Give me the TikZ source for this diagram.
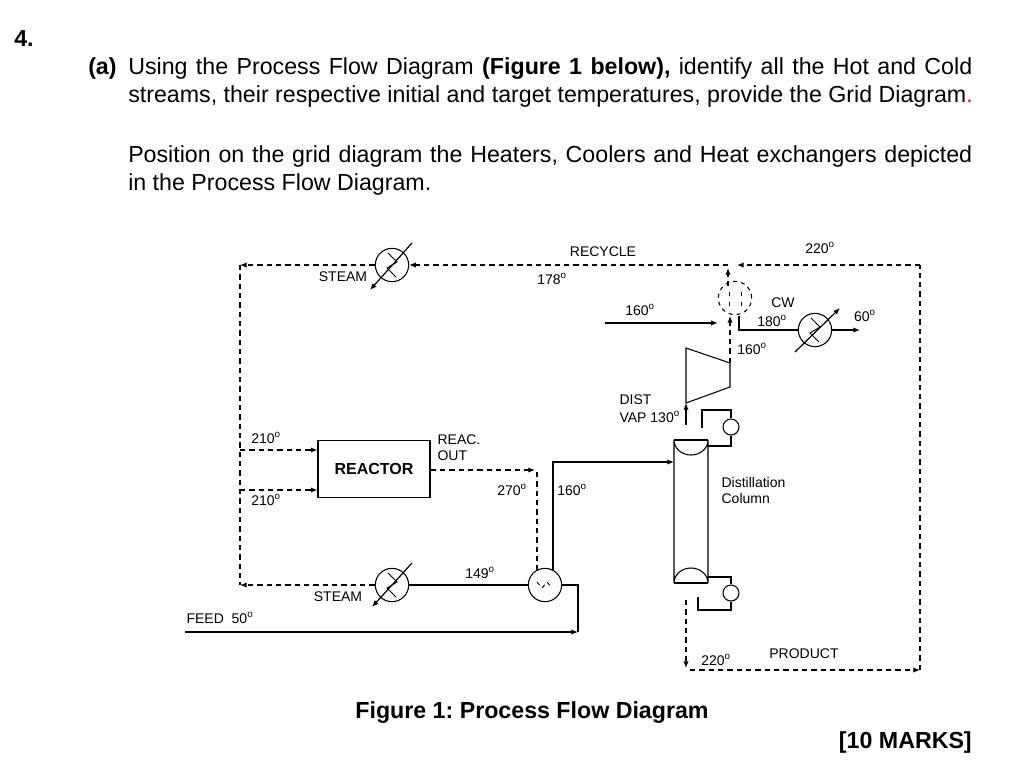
\documentclass[tikz,border=0pt]{standalone}
\usepackage{fontspec}
\setmainfont{Liberation Sans}
\usetikzlibrary{arrows.meta,calc}
\newcommand{\dg}{\textsuperscript{o}}
\frenchspacing
\begin{document}
\begin{tikzpicture}[x=0.75pt,y=-0.75pt,
  lbl/.style={font=\fontsize{10.5}{12}\selectfont,inner sep=1pt},
  txt/.style={font=\fontsize{17.4}{20}\selectfont,anchor=base west,inner sep=0},
  btxt/.style={font=\fontsize{17.4}{20}\selectfont\bfseries,anchor=base west,inner sep=0},
  flow/.style={line width=0.9pt},
  dflow/.style={line width=0.9pt,dash pattern=on 4pt off 3pt},
  arr/.style={-{Latex[length=5pt,width=4pt]}},
  hx/.style={circle,draw,line width=0.8pt,minimum size=25pt,inner sep=0}]
\useasboundingbox (0,0) rectangle (1024,765);
% header text
\node[btxt] (n4) at (14,46) {4.};
\node[btxt] (na) at (88,74) {(a)};
\node[txt] (l1) at (128,74) {\makebox[633pt][s]{Using the Process Flow Diagram \textbf{(Figure 1 below),} identify all the Hot and Cold}};
\node[txt] (l2) at (128,102) {streams, their respective initial and target temperatures, provide the Grid Diagram\textcolor{red}{.}};
\node[txt] (l3) at (128,162) {\makebox[633pt][s]{Position on the grid diagram the Heaters, Coolers and Heat exchangers depicted}};
\node[txt] (l4) at (128,190) {in the Process Flow Diagram.};
\node[btxt,anchor=base] (cap) at (532,718) {Figure 1: Process Flow Diagram};
\node[btxt,anchor=base east] (mk) at (972,748) {[10 MARKS]};

% equipment
\node[draw,line width=0.8pt,minimum width=84pt,minimum height=43pt,font=\fontsize{12}{14}\selectfont\bfseries] (reac) at (374,469) {REACTOR};
\node[hx] (h1) at (392,265) {};
\node[hx] (h2) at (392,585) {};
\node[hx] (c1) at (815,330) {};
\node[hx,dashed] (x1) at (735,298) {};
\node[hx] (x2) at (545,585) {};
\foreach \h in {h1,h2,c1}{
  \draw[line width=0.7pt] ($(\h)+(-4,-12)$) -- ($(\h)+(5,-3)$) -- ($(\h)+(-5,3)$) -- ($(\h)+(4,12)$);
}
\draw[line width=0.7pt,dashed] (x2)++(-8,-3) -- ++(5,6) -- ++(5,-6) -- ++(5,6);
\draw[line width=0.7pt,dashed] (x1)++(-6,-6) -- ++(0,4) (x1)++(6,-6)--++(0,4) (x1)++(-6,4)--++(0,5) (x1)++(6,4)--++(0,5);
% steam/cw arrows through heaters
\coordinate (h1a) at (412,243); \coordinate (h1b) at (370,290);
\draw[flow,arr] (h1a) -- (h1b);
\coordinate (h2a) at (412,563); \coordinate (h2b) at (372,607);
\draw[flow,arr] (h2a) -- (h2b);
\coordinate (c1a) at (795,352); \coordinate (c1b) at (840,308);
\draw[flow,arr] (c1a) -- (c1b);
% compressor
\coordinate (k1) at (686,348); \coordinate (k2) at (730,363); \coordinate (k3) at (730,387); \coordinate (k4) at (686,403);
\draw[line width=0.8pt] (k1)--(k2)--(k3)--(k4)--cycle;
% column
\draw[line width=0.8pt] (674,440) -- (674,583) arc[start angle=180,end angle=360,x radius=17,y radius=15] -- (708,440) arc[start angle=0,end angle=180,x radius=17,y radius=15];
\draw[line width=1.2pt] (674,440)--(708,440) (674,583)--(708,583);
\node[circle,draw,line width=0.8pt,minimum size=12pt,inner sep=0] (cond) at (731,427) {};
\node[circle,draw,line width=0.8pt,minimum size=12pt,inner sep=0] (reb) at (731,593) {};
\draw[line width=0.8pt] (702,428) -- (702,410) -- (731,410) -- (cond.north);
\draw[line width=0.8pt] (cond.south) -- (731,446) -- (708,446);
\draw[line width=0.8pt] (708,577) -- (731,577) -- (reb.north);
\draw[line width=0.8pt] (reb.south) -- (731,610) -- (698,610) -- (698,597);

% streams
\coordinate (tl) at (240,265); \coordinate (tr) at (920,265); \coordinate (br) at (920,670); \coordinate (bl) at (690,670);
\coordinate (mx) at (728,265);
\draw[dflow,arr] (728,286) -- (728,268);
\draw[dflow,arr] (mx) -- (h1.east);
\draw[dflow,arr] (h1.west) -- (tl);
\draw[dflow] (tl) -- (240,585);
\draw[dflow,arr] (bl) -- (br);
\draw[dflow] (br) -- (tr);
\draw[dflow,arr] (tr) -- (737,265);
\draw[dflow,arr] (686,600) -- (686,668);
\coordinate (d1) at (240,450); \coordinate (d2) at (240,490);
\draw[dflow,arr] (d1) -- (reac.west |- d1);
\draw[dflow,arr] (d2) -- (reac.west |- d2);
\draw[flow,arr] (605,323) -- (x1.west |- 0,323);
\draw[dflow,arr] (k2) -- (730,316);
\draw[flow] (739,316) -- (739,330) -- (c1.west);
\draw[flow,arr] (c1.east) -- (860,330);
\draw[flow,arr] (686,425) -- (k4);
\draw[dflow,arr] (reac.east |- 0,470) -- (535,470);
\draw[dflow] (537,472) -- (537,570);
\draw[flow,arr] (553,570) -- (553,462) -- (674,462);
\draw[flow,arr] (185,632) -- (578,632);
\draw[flow] (578,632) -- (578,585) -- (x2.east);
\draw[flow] (x2.west) -- (h2.east);
\draw[dflow,arr] (h2.west) -- (240,585);

% labels
\node[lbl] (t1) at (603,252) {RECYCLE};
\node[lbl] (t2) at (820,248) {220\dg};
\node[lbl] (t3) at (343,277) {STEAM};
\node[lbl] (t4) at (552,279) {178\dg};
\node[lbl] (t5) at (640,310) {160\dg};
\node[lbl] (t6) at (783,303) {CW};
\node[lbl] (t7) at (772,321) {180\dg};
\node[lbl] (t8) at (865,316) {60\dg};
\node[lbl] (t9) at (752,349) {160\dg};
\node[lbl,anchor=west] (t10) at (618,400) {DIST};
\node[lbl,anchor=west] (t11) at (618,417) {VAP 130\dg};
\node[lbl] (t12) at (266,438) {210\dg};
\node[lbl] (t13) at (266,500) {210\dg};
\node[lbl,anchor=west,align=left] (t14) at (436,448) {REAC.\\OUT};
\node[lbl] (t15) at (512,490) {270\dg};
\node[lbl] (t16) at (572,490) {160\dg};
\node[lbl,anchor=west,align=left] (t17) at (720,490) {Distillation\\Column};
\node[lbl] (t18) at (480,573) {149\dg};
\node[lbl] (t19) at (338,597) {STEAM};
\node[lbl] (t20) at (220,618) {FEED\ \ 50\dg};
\node[lbl] (t21) at (716,660) {220\dg};
\node[lbl] (t22) at (804,654) {PRODUCT};
\end{tikzpicture}
\end{document}
